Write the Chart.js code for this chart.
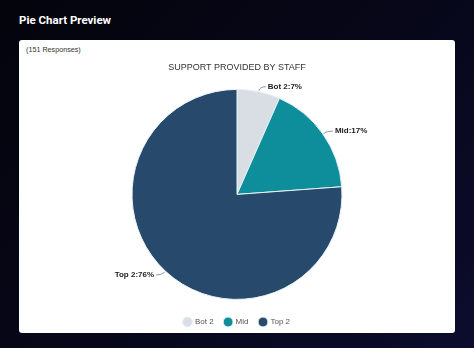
<!DOCTYPE html>
<html lang="en">
<head>
    <meta charset="UTF-8">
    <title>Pie Chart Preview</title>
    <script src="https://cdn.jsdelivr.net/npm/chart.js"></script>
    <style>
        body {
            margin: 0;
            width: 474px;
            height: 348px;
            overflow: hidden;
            background: linear-gradient(135deg, #04040c 0%, #07071a 55%, #0c0c2e 100%);
            font-family: "Liberation Sans", Arial, sans-serif;
        }

        .page-title {
            position: absolute;
            left: 19px;
            top: 13px;
            color: #fff;
            font-family: Roboto, sans-serif;
            font-weight: 700;
            font-size: 11.5px;
        }

        .card {
            position: absolute;
            left: 19px;
            top: 40px;
            width: 436px;
            height: 293px;
            background: #fff;
            border-radius: 3px;
        }

        .responses {
            position: absolute;
            left: 7px;
            top: 5px;
            font-size: 7.2px;
            color: #333;
        }

        .chart-wrapper {
            position: absolute;
            left: 0;
            top: 0;
            width: 436px;
            height: 298px;
        }
    </style>
</head>
<body>
    <div class="page-title">Pie Chart Preview</div>

    <div class="card">
        <div class="responses">(151 Responses)</div>
        <div class="chart-wrapper">
            <canvas id="pieChart"></canvas>
        </div>
    </div>

    <script>
        // data
        const categories = ['Bot 2', 'Mid', 'Top 2'];
        const responses = [10, 26, 115];
        const sliceColors = ['#d9dee5', '#0e8e9a', '#274a6c'];

        const total = responses.reduce((a, b) => a + b, 0);

        // labels outside slices with a short leader line
        const outsideLabels = {
            id: 'outsideLabels',
            afterDatasetsDraw(chart) {
                const ctx = chart.ctx;
                const meta = chart.getDatasetMeta(0);
                ctx.save();
                ctx.font = 'bold 8px "Liberation Sans", Arial, sans-serif';
                ctx.fillStyle = '#222';
                ctx.strokeStyle = '#8a9aa8';
                ctx.lineWidth = 1;
                meta.data.forEach((arc, i) => {
                    const mid = (arc.startAngle + arc.endAngle) / 2;
                    const r = arc.outerRadius;
                    const cos = Math.cos(mid), sin = Math.sin(mid);
                    const x1 = arc.x + cos * (r + 1), y1 = arc.y + sin * (r + 1);
                    const x2 = arc.x + cos * (r + 5), y2 = arc.y + sin * (r + 5);
                    const right = cos >= 0;
                    const x3 = x2 + (right ? 6 : -6);
                    ctx.beginPath();
                    ctx.moveTo(x1, y1);
                    ctx.quadraticCurveTo(x2, y2, x3, y2);
                    ctx.stroke();
                    const pct = Math.round(responses[i] / total * 100);
                    ctx.textAlign = right ? 'left' : 'right';
                    ctx.textBaseline = 'middle';
                    ctx.fillText(categories[i] + ':' + pct + '%', x3 + (right ? 2 : -2), y2);
                });
                ctx.restore();
            }
        };

        const ctx = document.getElementById('pieChart').getContext('2d');
        const pieChart = new Chart(ctx, {
            type: 'pie',
            data: {
                labels: categories,
                datasets: [{
                    data: responses,
                    backgroundColor: sliceColors,
                    borderColor: '#e6f2f6',
                    borderWidth: 1,
                    radius: 105
                }]
            },
            options: {
                responsive: true,
                maintainAspectRatio: false,
                animation: false,
                layout: {
                    padding: { top: 0, bottom: 2, left: 0, right: 0 }
                },
                plugins: {
                    title: {
                        display: true,
                        text: 'SUPPORT PROVIDED BY STAFF',
                        color: '#333',
                        font: { family: '"Liberation Sans", Arial, sans-serif', size: 9, weight: 'normal' },
                        padding: { top: 22, bottom: 9 }
                    },
                    legend: {
                        position: 'bottom',
                        labels: {
                            usePointStyle: true,
                            pointStyle: 'circle',
                            boxWidth: 7,
                            boxHeight: 7,
                            padding: 11,
                            color: '#555',
                            font: { family: '"Liberation Sans", Arial, sans-serif', size: 8 }
                        }
                    },
                    tooltip: { enabled: false }
                }
            },
            plugins: [outsideLabels]
        });
    </script>
</body>
</html>
